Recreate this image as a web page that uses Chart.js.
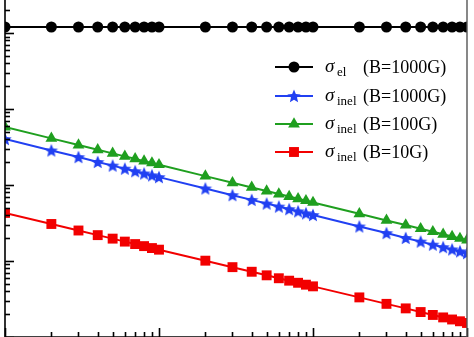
<!DOCTYPE html>
<html>
<head>
<meta charset="utf-8">
<script src="https://cdn.jsdelivr.net/npm/chart.js@4.4.0/dist/chart.umd.min.js"></script>
<style>
  html, body { margin: 0; padding: 0; background: #fff; }
  #wrap { width: 474px; height: 337px; }
</style>
</head>
<body>
<div id="wrap"><canvas id="c" width="474" height="337"></canvas></div>
<script>
// Collision energy grid (three decades)
const energies = [
  1e-6, 2e-6, 3e-6, 4e-6, 5e-6, 6e-6, 7e-6, 8e-6, 9e-6,
  1e-5, 2e-5, 3e-5, 4e-5, 5e-5, 6e-5, 7e-5, 8e-5, 9e-5,
  1e-4, 2e-4, 3e-4, 4e-4, 5e-4, 6e-4, 7e-4, 8e-4, 9e-4,
  1e-3
];

// Elastic cross section, B = 1000 G
const sigmaEl1000 = [
  1.2e-9, 1.2e-9, 1.2e-9, 1.2e-9, 1.2e-9, 1.2e-9, 1.2e-9, 1.2e-9, 1.2e-9,
  1.2e-9, 1.2e-9, 1.2e-9, 1.2e-9, 1.2e-9, 1.2e-9, 1.2e-9, 1.2e-9, 1.2e-9,
  1.2e-9, 1.2e-9, 1.2e-9, 1.2e-9, 1.2e-9, 1.2e-9, 1.2e-9, 1.2e-9, 1.2e-9,
  1.2e-9
];

// Inelastic cross section, B = 1000 G
const sigmaInel1000 = [
  4.03e-11, 2.85e-11, 2.33e-11, 2.01e-11, 1.80e-11, 1.64e-11, 1.52e-11, 1.42e-11, 1.34e-11,
  1.27e-11, 9.01e-12, 7.35e-12, 6.37e-12, 5.70e-12, 5.20e-12, 4.81e-12, 4.50e-12, 4.24e-12,
  4.03e-12, 2.85e-12, 2.33e-12, 2.01e-12, 1.80e-12, 1.64e-12, 1.52e-12, 1.42e-12, 1.34e-12,
  1.27e-12
];

// Inelastic cross section, B = 100 G
const sigmaInel100 = [
  5.79e-11, 4.11e-11, 3.36e-11, 2.91e-11, 2.61e-11, 2.38e-11, 2.21e-11, 2.06e-11, 1.95e-11,
  1.85e-11, 1.31e-11, 1.07e-11, 9.30e-12, 8.32e-12, 7.60e-12, 7.04e-12, 6.59e-12, 6.22e-12,
  5.90e-12, 4.18e-12, 3.42e-12, 2.97e-12, 2.66e-12, 2.43e-12, 2.25e-12, 2.10e-12, 1.98e-12,
  1.88e-12
];

// Inelastic cross section, B = 10 G
const sigmaInel10 = [
  4.29e-12, 3.07e-12, 2.52e-12, 2.19e-12, 1.97e-12, 1.80e-12, 1.67e-12, 1.57e-12, 1.48e-12,
  1.41e-12, 1.01e-12, 8.30e-13, 7.22e-13, 6.48e-13, 5.93e-13, 5.51e-13, 5.17e-13, 4.88e-13,
  4.64e-13, 3.32e-13, 2.73e-13, 2.38e-13, 2.13e-13, 1.95e-13, 1.81e-13, 1.70e-13, 1.61e-13,
  1.53e-13
];

const legendLabels = [
  { sub: 'el',   rest: '(B=1000G)' },
  { sub: 'inel', rest: '(B=1000G)' },
  { sub: 'inel', rest: '(B=100G)' },
  { sub: 'inel', rest: '(B=10G)' }
];

const COLORS = {
  black: '#000000',
  blue: '#2140f2',
  green: '#1f9f1f',
  red: '#f20000'
};

// filled five-point star used as a marker
function starMarker(color, r) {
  const c = document.createElement('canvas');
  const s = Math.ceil(r * 2 + 2);
  c.width = c.height = s;
  const g = c.getContext('2d');
  g.beginPath();
  for (let i = 0; i < 10; i++) {
    const rad = i % 2 ? r * 0.45 : r;
    const a = -Math.PI / 2 + i * Math.PI / 5;
    g.lineTo(s / 2 + rad * Math.cos(a), s / 2 + rad * Math.sin(a) + 0.6);
  }
  g.closePath();
  g.fillStyle = color;
  g.fill();
  return c;
}
const blueStar = starMarker(COLORS.blue, 7);

function pts(ys) { return energies.map((x, i) => ({ x: x, y: ys[i] })); }

const series = [
  { data: sigmaEl1000,   color: COLORS.black, style: 'circle',   radius: 5.5 },
  { data: sigmaInel1000, color: COLORS.blue,  style: blueStar,   radius: 7 },
  { data: sigmaInel100,  color: COLORS.green, style: 'triangle', radius: 6.8 },
  { data: sigmaInel10,   color: COLORS.red,   style: 'rect',     radius: 7 }
];

// inward-facing frame ticks on the log axes
const frameTicks = {
  id: 'frameTicks',
  afterDatasetsDraw(chart) {
    const { ctx, chartArea: a, scales } = chart;
    const xs = scales.x, ys = scales.y;
    ctx.save();
    ctx.strokeStyle = '#000';
    ctx.lineWidth = 1.6;
    // y ticks on the left edge
    for (let k = -14; k <= -8; k++) {
      for (let m = 1; m <= 9; m++) {
        const v = m * Math.pow(10, k);
        if (v < ys.min * 0.999 || v > ys.max) continue;
        const py = Math.round(ys.getPixelForValue(v)) + 0.5;
        const len = m === 1 ? 9 : 5;
        ctx.beginPath();
        ctx.moveTo(a.left, py);
        ctx.lineTo(a.left + len, py);
        ctx.stroke();
      }
    }
    // x ticks along the bottom edge
    for (let k = -7; k <= -3; k++) {
      for (let m = 1; m <= 9; m++) {
        const v = m * Math.pow(10, k);
        if (v < xs.min * 0.999 || v > xs.max * 1.001) continue;
        const px = Math.round(xs.getPixelForValue(v)) + 0.5;
        const len = m === 1 ? 9 : 5;
        ctx.beginPath();
        ctx.moveTo(px, a.bottom);
        ctx.lineTo(px, a.bottom - len);
        ctx.stroke();
      }
    }
    // frame lines
    ctx.lineWidth = 1.6;
    ctx.beginPath();
    ctx.moveTo(a.left, a.top);
    ctx.lineTo(a.left, a.bottom);
    ctx.lineTo(a.right, a.bottom);
    ctx.stroke();
    ctx.strokeStyle = '#555';
    ctx.lineWidth = 1.4;
    ctx.beginPath();
    ctx.moveTo(a.right, a.top);
    ctx.lineTo(a.right, a.bottom);
    ctx.stroke();
    ctx.restore();
  }
};

// legend with subscripted sigma labels
const sigmaLegend = {
  id: 'sigmaLegend',
  afterDraw(chart) {
    const ctx = chart.ctx;
    const rows = [67, 96, 124, 152];
    ctx.save();
    series.forEach((s, i) => {
      const y = rows[i];
      ctx.strokeStyle = s.color;
      ctx.fillStyle = s.color;
      ctx.lineWidth = 2;
      ctx.beginPath();
      ctx.moveTo(275, y);
      ctx.lineTo(313, y);
      ctx.stroke();
      Chart.helpers.drawPoint(ctx, { pointStyle: s.style, radius: s.radius, rotation: 0, borderWidth: 0 }, 294, y);
      ctx.fillStyle = '#000';
      ctx.textBaseline = 'alphabetic';
      ctx.font = 'italic 19px "Liberation Serif"';
      ctx.fillText('σ', 325, y + 5);
      ctx.font = '13px "Liberation Serif"';
      ctx.fillText(legendLabels[i].sub, 337, y + 9);
      ctx.font = '18px "Liberation Serif"';
      ctx.fillText(legendLabels[i].rest, 363, y + 6);
    });
    ctx.restore();
  }
};

new Chart(document.getElementById('c'), {
  type: 'line',
  data: {
    datasets: series.map(s => ({
      data: pts(s.data),
      borderColor: s.color,
      backgroundColor: s.color,
      borderWidth: 2,
      pointStyle: s.style,
      pointRadius: s.radius,
      pointBorderWidth: 0,
      pointBackgroundColor: s.color,
      tension: 0
    }))
  },
  options: {
    responsive: false,
    devicePixelRatio: 1,
    animation: false,
    layout: { autoPadding: false, padding: { left: 5, right: 7, top: 0, bottom: 0 } },
    plugins: { legend: { display: false }, tooltip: { enabled: false } },
    scales: {
      x: { type: 'logarithmic', min: 1e-6, max: 1e-3, display: false },
      y: { type: 'logarithmic', min: 1e-13, max: 2.72e-9, display: false }
    }
  },
  plugins: [frameTicks, sigmaLegend]
});
</script>
</body>
</html>
